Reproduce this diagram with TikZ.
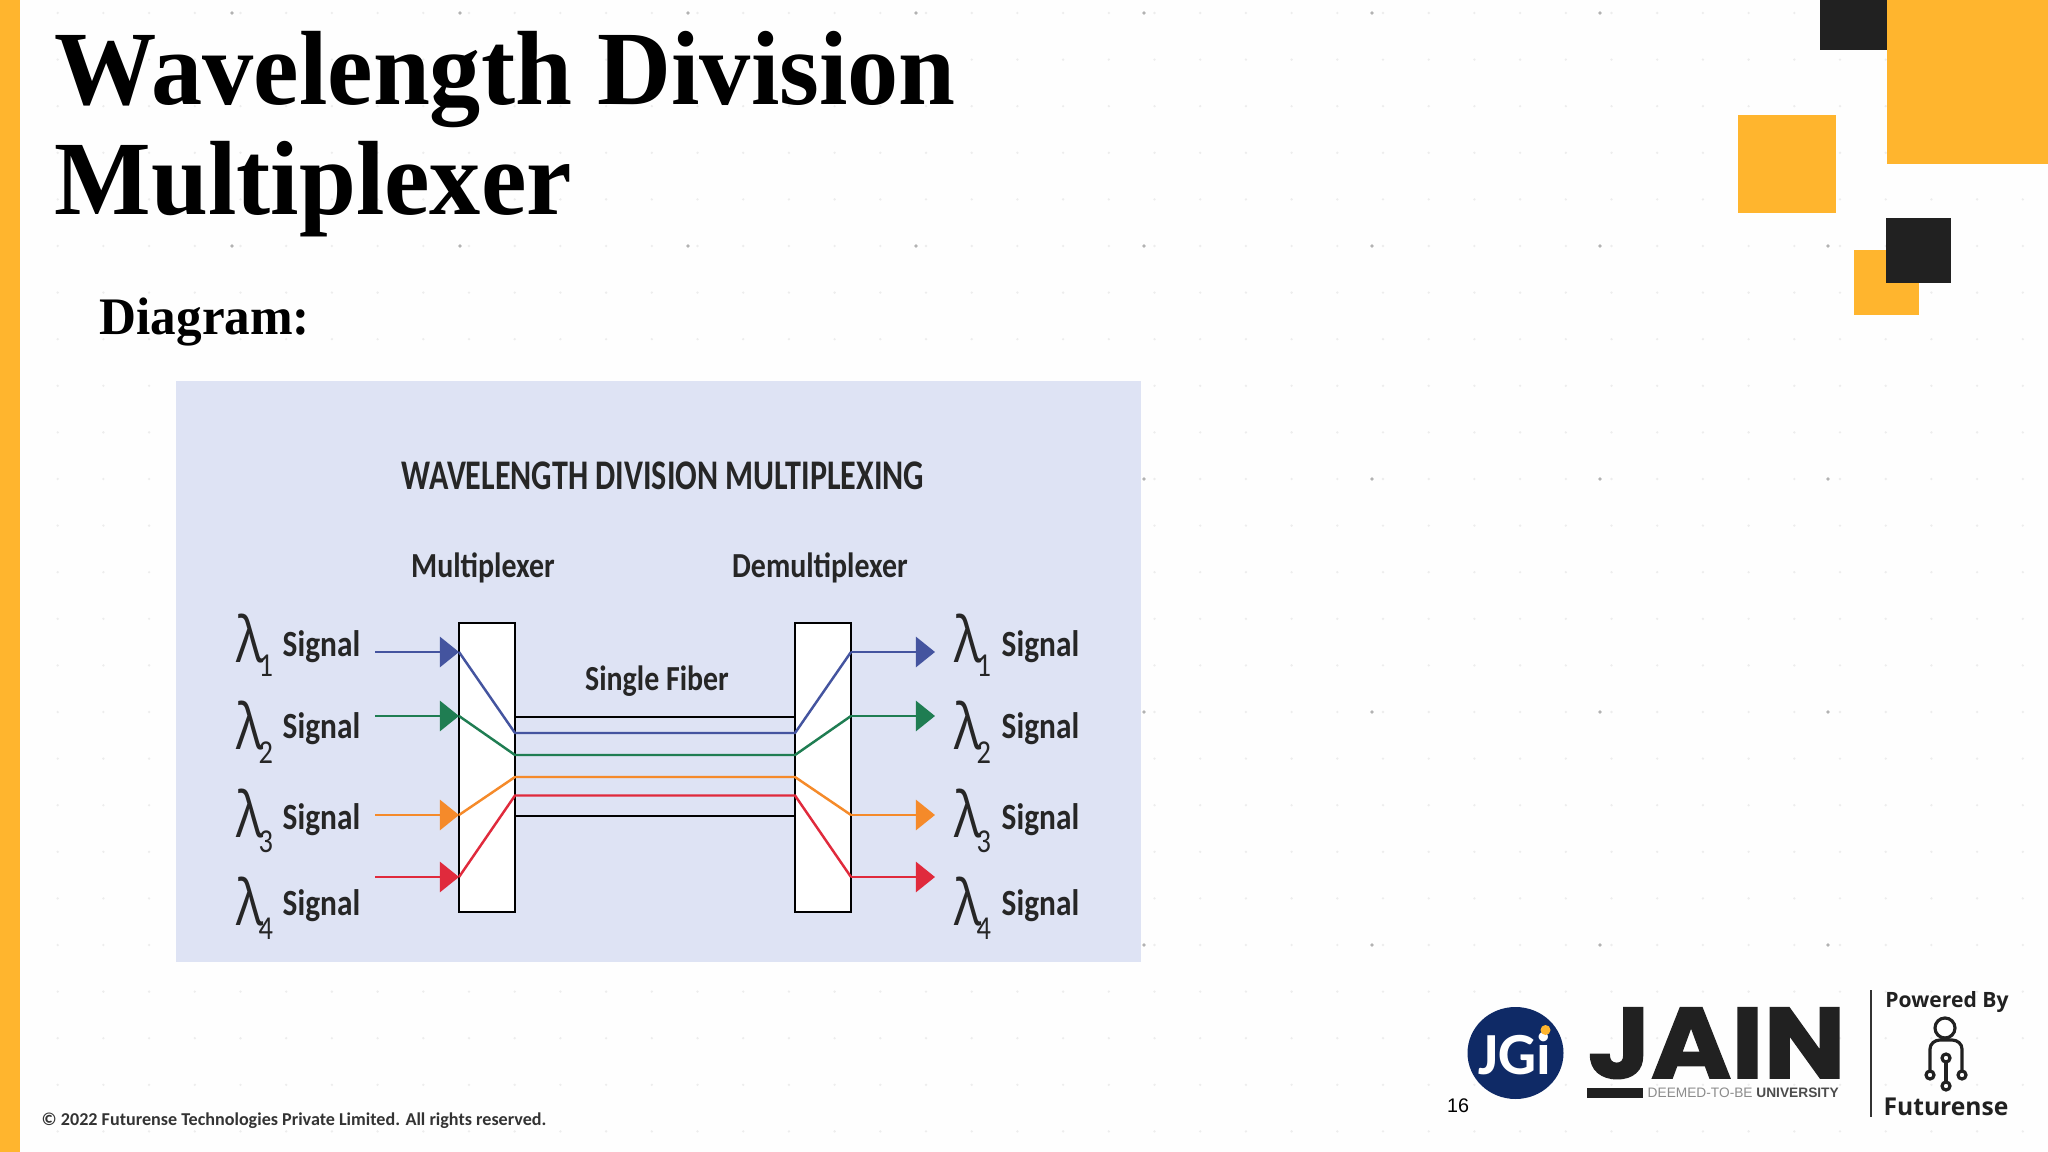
\documentclass[tikz,border=0pt]{standalone}
\usepackage{fontspec}
\usepackage{xcolor}
\usetikzlibrary{arrows.meta}
\setmainfont{Liberation Serif}[FakeStretch=0.97]
\newfontfamily\labfont[FakeStretch=0.85]{Carlito}
\newfontfamily\headfont[FakeStretch=0.76]{Carlito}
\newfontfamily\lamfont[FakeStretch=0.8]{Open Sans}
\newfontfamily\logofont[FakeBold=1.5,FakeStretch=1.09]{Poppins}
\newfontfamily\subfont{Liberation Sans}
\newfontfamily\powerfont{Open Sans}
\newfontfamily\footfont{Carlito}

\definecolor{pagebg}{HTML}{FEFEFE}
\definecolor{barorange}{HTML}{FFB52E}
\definecolor{darksq}{HTML}{212121}
\definecolor{panelbg}{HTML}{DEE3F4}
\definecolor{sigblue}{HTML}{44549F}
\definecolor{siggreen}{HTML}{1F7D52}
\definecolor{sigorange}{HTML}{F58A2A}
\definecolor{sigred}{HTML}{E02A3C}
\definecolor{jginavy}{HTML}{0F2A66}

\tikzset{
	boxnode/.style={draw=black, fill=white, line width=0.8pt, minimum width=0.56cm, minimum height=2.89cm, inner sep=0pt},
	arrowline/.style={line width=0.7pt, -{Triangle[length=0.19cm, width=0.30cm]}},
	sigline/.style={line width=0.7pt},
	lablabel/.style={font=\labfont\bfseries\fontsize{10.5}{12}\selectfont, text=black!85, inner sep=0pt},
	unitlabel/.style={font=\labfont\bfseries\fontsize{10}{12}\selectfont, text=black!85, inner sep=0pt},
	lamlabel/.style={font=\lamfont\fontsize{18}{20}\selectfont, text=black!85, inner sep=0pt}
}
\newcommand{\lamtext}[1]{λ\kern-0.08em{\labfont\fontsize{9.5}{10}\selectfont\raisebox{-0.9ex}{#1}}}

\begin{document}
\begin{tikzpicture}[x=0.01cm, y=-0.01cm]
	\useasboundingbox (0,0) rectangle (2048,1152);
	\fill[pagebg] (0,0) rectangle (2048,1152);
	% dots behind everything
	\foreach \i in {0,...,44} \foreach \j in {0,...,25}
		\fill[black!7] ({12+45.7*\i},{13+46.6*\j}) circle (1.3);
	\foreach \i in {0,...,8} \foreach \j in {0,...,4}
		\fill[black!30] ({232+228*\i},{13+233*\j}) circle (1.8);
	\fill[barorange] (0,0) rectangle (20,1152);
	% corner squares
	\fill[darksq] (1820,0) rectangle (1887,50);
	\fill[barorange] (1887,0) rectangle (2048,164);
	\fill[barorange] (1738,115) rectangle (1836,213);
	\fill[barorange] (1854,250) rectangle (1919,315);
	\fill[darksq] (1886,218) rectangle (1951,283);
	% headings
	\node[anchor=base west, inner sep=0pt, font=\bfseries\fontsize{30}{32}\selectfont] (titlea) at (54,105) {Wavelength Division};
	\node[anchor=base west, inner sep=0pt, font=\bfseries\fontsize{30}{32}\selectfont] (titleb) at (54,215) {Multiplexer};
	\node[anchor=base west, inner sep=0pt, font=\bfseries\fontsize{15}{17}\selectfont] (diagram) at (99,335) {Diagram:};
	% panel
	\fill[panelbg] (176,381) rectangle (1141,962);
	\node[font=\headfont\bfseries\fontsize{12}{14}\selectfont, text=black!85, inner sep=0pt] (wdmtitle) at (663,476) {WAVELENGTH DIVISION MULTIPLEXING};
	\node[unitlabel] (muxlabel) at (483,568) {Multiplexer};
	\node[unitlabel] (demuxlabel) at (820,568) {Demultiplexer};
	\node[unitlabel] (fiberlabel) at (657,681) {Single Fiber};
	\node[boxnode] (mux) at (487,767.5) {};
	\node[boxnode] (demux) at (823,767.5) {};
	% named line ends
	\coordinate (ina) at (375,652);
	\coordinate (inb) at (375,716);
	\coordinate (inc) at (375,815);
	\coordinate (ind) at (375,877);
	\coordinate (muxa) at (459,652);
	\coordinate (muxb) at (459,716);
	\coordinate (muxc) at (459,815);
	\coordinate (muxd) at (459,877);
	\coordinate (fla) at (515,733);
	\coordinate (flb) at (515,755);
	\coordinate (flc) at (515,777);
	\coordinate (fld) at (515,795.5);
	\coordinate (fra) at (795,733);
	\coordinate (frb) at (795,755);
	\coordinate (frc) at (795,777);
	\coordinate (frd) at (795,795.5);
	\coordinate (dema) at (851,652);
	\coordinate (demb) at (851,716);
	\coordinate (demc) at (851,815);
	\coordinate (demd) at (851,877);
	\coordinate (outa) at (935,652);
	\coordinate (outb) at (935,716);
	\coordinate (outc) at (935,815);
	\coordinate (outd) at (935,877);
	\coordinate (toplft) at (515,717);
	\coordinate (toprgt) at (795,717);
	\coordinate (botlft) at (515,816);
	\coordinate (botrgt) at (795,816);
	% fiber
	\draw[sigline, black] (toplft) -- (toprgt);
	\draw[sigline, black] (botlft) -- (botrgt);
	\draw[arrowline, sigblue] (ina) -- (muxa);
	\draw[arrowline, siggreen] (inb) -- (muxb);
	\draw[arrowline, sigorange] (inc) -- (muxc);
	\draw[arrowline, sigred] (ind) -- (muxd);
	\draw[sigline, sigblue] (muxa) -- (fla) -- (fra) -- (dema);
	\draw[sigline, siggreen] (muxb) -- (flb) -- (frb) -- (demb);
	\draw[sigline, sigorange] (muxc) -- (flc) -- (frc) -- (demc);
	\draw[sigline, sigred] (muxd) -- (fld) -- (frd) -- (demd);
	\draw[arrowline, sigblue] (dema) -- (outa);
	\draw[arrowline, siggreen] (demb) -- (outb);
	\draw[arrowline, sigorange] (demc) -- (outc);
	\draw[arrowline, sigred] (demd) -- (outd);
	% signal labels
	\node[lamlabel, anchor=west] (lama) at (236,645) {\lamtext{1}};
	\node[lamlabel, anchor=west] (lamb) at (236,732) {\lamtext{2}};
	\node[lamlabel, anchor=west] (lamc) at (236,821) {\lamtext{3}};
	\node[lamlabel, anchor=west] (lamd) at (236,908) {\lamtext{4}};
	\node[lablabel, anchor=west] (siga) at (282,647) {Signal};
	\node[lablabel, anchor=west] (sigb) at (282,729) {Signal};
	\node[lablabel, anchor=west] (sigc) at (282,820) {Signal};
	\node[lablabel, anchor=west] (sigd) at (282,906) {Signal};
	\node[lamlabel, anchor=west] (lame) at (954,645) {\lamtext{1}};
	\node[lamlabel, anchor=west] (lamf) at (954,732) {\lamtext{2}};
	\node[lamlabel, anchor=west] (lamg) at (954,821) {\lamtext{3}};
	\node[lamlabel, anchor=west] (lamh) at (954,908) {\lamtext{4}};
	\node[lablabel, anchor=west] (sige) at (1001,647) {Signal};
	\node[lablabel, anchor=west] (sigf) at (1001,729) {Signal};
	\node[lablabel, anchor=west] (sigg) at (1001,820) {Signal};
	\node[lablabel, anchor=west] (sigh) at (1001,906) {Signal};
	% footer
	\node[anchor=west, inner sep=0pt, text=black!80, font=\footfont\bfseries\fontsize{5.15}{6}\selectfont] (copyright) at (41,1121) {© 2022 Futurense Technologies Private Limited. All rights reserved.};
	\node[anchor=base, inner sep=0pt, font=\subfont\fontsize{5.6}{7}\selectfont] (pagenum) at (1458,1112) {16};
	% logos
	\fill[jginavy] (1515.5,1053) ellipse (48 and 46);
	\node[anchor=center, inner sep=0pt, text=white, font=\footfont\bfseries\fontsize{17}{20}\selectfont] (jgi) at (1515,1054) {JGi};
	\fill[barorange] (1545.5,1030) circle (5);
	\node[anchor=base west, inner sep=0pt, text=darksq, font=\logofont\bfseries\fontsize{28.5}{30}\selectfont] (jain) at (1587,1078) {JAIN};
	\fill[darksq] (1587,1088) rectangle (1643,1098);
	\node[anchor=west, inner sep=0pt, font=\subfont\fontsize{3.9}{5}\selectfont] (deemed) at (1647,1093) {\textcolor{black!45}{DEEMED-TO-BE} \textcolor{black!70}{\bfseries UNIVERSITY}};
	\draw[line width=0.6pt, black!80] (1871,990) -- (1871,1117);
	\node[anchor=center, inner sep=0pt, text=darksq, font=\powerfont\bfseries\fontsize{6}{8}\selectfont] (powered) at (1947,1002) {Powered By};
	\node[anchor=center, inner sep=0pt, text=darksq, font=\powerfont\bfseries\fontsize{7}{8}\selectfont] (futurense) at (1946,1107) {Futurense};
	% futurense icon
	\draw[line width=0.9pt, darksq] (1945,1028) circle (10);
	\draw[line width=0.9pt, darksq] (1930,1071) -- (1930,1049) to[out=90, in=180] (1940,1040) -- (1952,1040) to[out=0, in=90] (1962,1049) -- (1962,1071);
	\draw[line width=0.9pt, darksq] (1930,1075) circle (4);
	\draw[line width=0.9pt, darksq] (1962,1075) circle (4);
	\draw[line width=0.9pt, darksq] (1946,1058) circle (4);
	\draw[line width=0.9pt, darksq] (1946,1086) circle (4);
	\draw[line width=0.9pt, darksq] (1946,1062) -- (1946,1082);
\end{tikzpicture}
\end{document}
